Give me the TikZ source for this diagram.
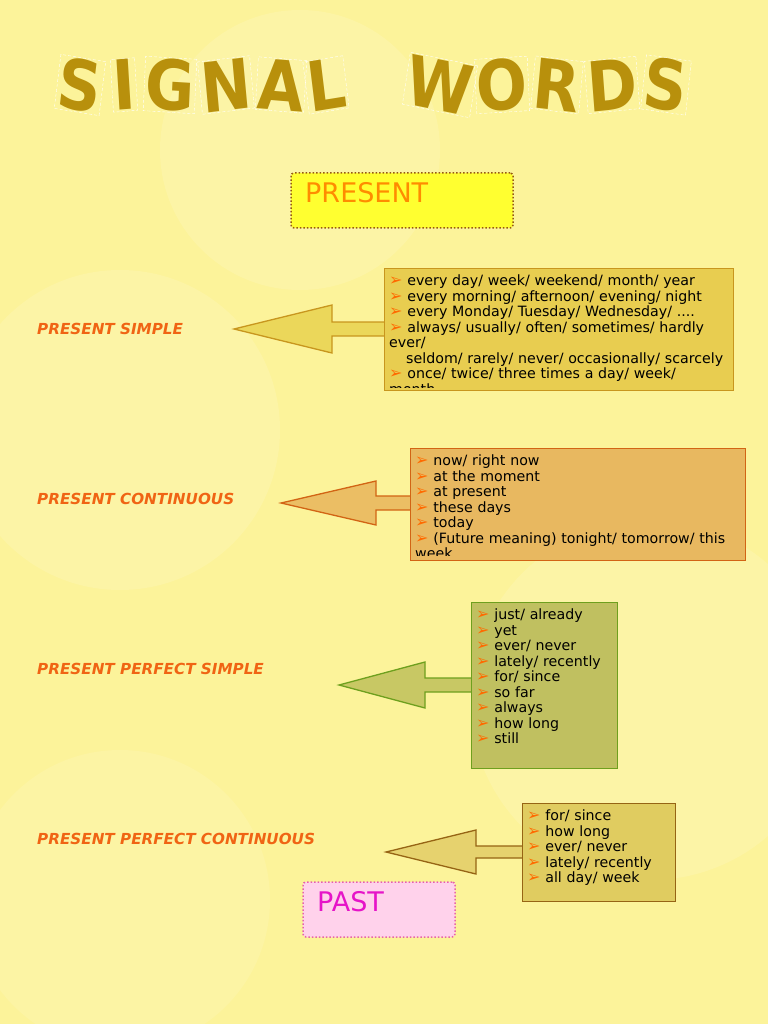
\documentclass[tikz,border=0pt]{standalone}
\usepackage{fontspec}
\setmainfont{DejaVu Sans}
\begin{document}
\begin{tikzpicture}[x=1pt,y=-1pt,
  lbl/.style={anchor=west,font=\fontsize{15.2}{17}\selectfont\bfseries\itshape,text=lblc,inner sep=0},
  ttl/.style={font=\fontsize{60}{62}\selectfont\bfseries,text=goldc,draw=white,densely dashed,line width=0.4pt,inner sep=1pt,yscale=1.15},
  lst/.style={anchor=north west,align=left,font=\fontsize{14.2}{15.5}\selectfont,inner sep=0,text width=#1}]
\definecolor{bg}{HTML}{FCF39A}
\definecolor{lblc}{HTML}{F06414}
\definecolor{goldc}{HTML}{B8900C}
\definecolor{bc}{HTML}{FF6A00}
\newcommand{\bl}{{\color{bc}\fontsize{16}{15.5}\selectfont➢} }
\useasboundingbox (0,0) rectangle (768,1024);
\fill[bg] (0,0) rectangle (768,1024);
\fill[white,opacity=0.12] (120,430) circle (160);
\fill[white,opacity=0.12] (650,700) circle (180);
\fill[white,opacity=0.12] (300,150) circle (140);
\fill[white,opacity=0.1] (120,900) circle (150);
% title
\foreach \c/\x/\r in {S/80/-8,I/124/4,G/170/-3,N/226/6,A/281/-4,L/326/8,W/440/-10,O/502/3,R/557/-6,D/612/5,S/666/-7}
  \node[ttl,rotate=\r] (t\x) at (\x,85) {\c};
% PRESENT
\node[draw={rgb,255:red,150;green,90;blue,20},dotted,line width=1.5pt,fill={rgb,255:red,255;green,255;blue,48},rounded corners=3pt,minimum width=222,minimum height=55] (present) at (402,200.5) {};
\node[anchor=west,inner sep=0,text={rgb,255:red,255;green,140;blue,0},font=\fontsize{27}{29}\selectfont] (presentt) at (305,193) {PRESENT};
% PAST
\node[draw={rgb,255:red,230;green,100;blue,170},dotted,line width=1.5pt,fill={rgb,255:red,255;green,210;blue,235},rounded corners=3pt,minimum width=152,minimum height=55] (past) at (379,909.5) {};
\node[anchor=west,inner sep=0,text={rgb,255:red,230;green,20;blue,200},font=\fontsize{27}{29}\selectfont] (pastt) at (317,902) {PAST};
% labels
\node[lbl] (l1) at (37,329) {PRESENT SIMPLE};
\node[lbl] (l2) at (37,499) {PRESENT CONTINUOUS};
\node[lbl] (l3) at (37,669) {PRESENT PERFECT SIMPLE};
\node[lbl] (l4) at (37,839) {PRESENT PERFECT CONTINUOUS};
% arrows
\newcommand{\barrow}[8]{%
  \filldraw[fill=#7,draw=#8,line width=1.3pt] (#1,#2) -- (#3,#2-#4) -- (#3,#2-#5) -- (#6,#2-#5) -- (#6,#2+#5) -- (#3,#2+#5) -- (#3,#2+#4) -- cycle;}
\barrow{234}{329}{332}{24}{7}{386}{{rgb,255:red,235;green,215;blue,90}}{{rgb,255:red,200;green,150;blue,30}}
\barrow{281}{503}{376}{22}{7}{412}{{rgb,255:red,235;green,190;blue,100}}{{rgb,255:red,210;green,100;blue,20}}
\barrow{339}{685}{425}{23}{7}{473}{{rgb,255:red,200;green,200;blue,100}}{{rgb,255:red,110;green,160;blue,30}}
\barrow{386}{852}{476}{22}{6}{524}{{rgb,255:red,230;green,210;blue,110}}{{rgb,255:red,150;green,100;blue,20}}
% boxes
\node[draw={rgb,255:red,200;green,150;blue,30},fill={rgb,255:red,232;green,205;blue,80},line width=1.2pt,minimum width=349,minimum height=122,anchor=north west] (b1) at (384,268) {};
\node[draw={rgb,255:red,210;green,100;blue,20},fill={rgb,255:red,232;green,184;blue,96},line width=1.2pt,minimum width=335,minimum height=112,anchor=north west] (b2) at (410,448) {};
\node[draw={rgb,255:red,110;green,160;blue,30},fill={rgb,255:red,192;green,192;blue,96},line width=1.2pt,minimum width=146,minimum height=166,anchor=north west] (b3) at (471,602) {};
\node[draw={rgb,255:red,150;green,100;blue,20},fill={rgb,255:red,224;green,204;blue,96},line width=1.2pt,minimum width=153,minimum height=98,anchor=north west] (b4) at (522,803) {};
\begin{scope}
\clip (384,268) rectangle (733,387);
\node[lst=345] (t1) at (389,275) {\bl every day/ week/ weekend/ month/ year\\\bl every morning/ afternoon/ evening/ night\\\bl every Monday/ Tuesday/ Wednesday/ ....\\\bl always/ usually/ often/ sometimes/ hardly\\ever/\\\hspace*{1.2em}seldom/ rarely/ never/ occasionally/ scarcely\\\bl once/ twice/ three times a day/ week/\\month};
\end{scope}
\begin{scope}
\clip (410,448) rectangle (745,555);
\node[lst=330] (t2) at (415,455) {\bl now/ right now\\\bl at the moment\\\bl at present\\\bl these days\\\bl today\\\bl (Future meaning) tonight/ tomorrow/ this\\week};
\end{scope}
\node[lst=140] (t3) at (476,609) {\bl just/ already\\\bl yet\\\bl ever/ never\\\bl lately/ recently\\\bl for/ since\\\bl so far\\\bl always\\\bl how long\\\bl still};
\node[lst=150] (t4) at (527,810) {\bl for/ since\\\bl how long\\\bl ever/ never\\\bl lately/ recently\\\bl all day/ week};
\end{tikzpicture}
\end{document}
